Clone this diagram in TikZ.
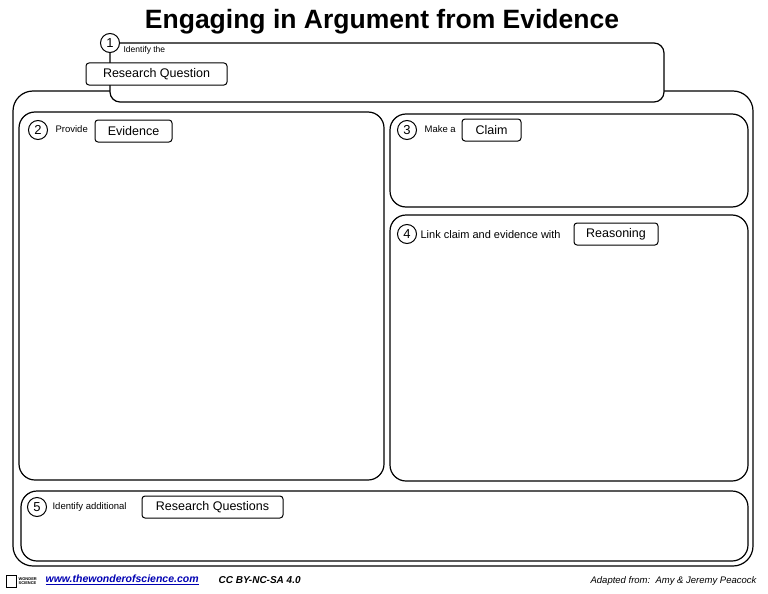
\documentclass[tikz,border=0pt]{standalone}
\usepackage{fontspec}
\setmainfont{Liberation Sans}
\begin{document}
\begin{tikzpicture}[x=1pt,y=-1pt,line width=1.2pt,
  panel/.style={draw,rounded corners=16pt},
  tag/.style={draw,rounded corners=3pt,line width=1pt,inner xsep=0pt,minimum height=22pt,font=\fontsize{12.5}{14}\selectfont},
  num/.style={draw,circle,line width=1pt,minimum size=19pt,inner sep=0pt,font=\fontsize{13}{14}\selectfont,fill=white},
  lbl/.style={anchor=west,inner sep=0pt,font=\fontsize{9.5}{11}\selectfont}]
\useasboundingbox (0,0) rectangle (768,594);
\node (title) at (382,22) {\fontsize{26.5}{28}\selectfont\bfseries Engaging in Argument from Evidence};
\draw[panel,rounded corners=20pt] (13,91) rectangle (753,566);
\draw[fill=white,rounded corners=10pt] (110,43) rectangle (664,102);
\node[num] (n1) at (110,43) {1};
\node[lbl] (t1) at (123,50) {\fontsize{8.5}{10}\selectfont Identify the};
\node[tag,fill=white,minimum width=141pt] (rq) at (156.5,74) {Research Question};
\draw[panel] (19,112) rectangle (384,480);
\draw[panel] (390,114) rectangle (748,207);
\draw[panel] (390,215) rectangle (748,481);
\draw[panel] (21,491) rectangle (748,561);
\node[num] (n2) at (38,130) {2};
\node[lbl] (t2) at (55,129) {Provide};
\node[tag,minimum width=77pt] (ev) at (133.5,131) {Evidence};
\node[num] (n3) at (407,130) {3};
\node[lbl] (t3) at (424,129) {Make a};
\node[tag,minimum width=59pt] (cl) at (491.5,130) {Claim};
\node[num] (n4) at (407,234) {4};
\node[lbl,font=\fontsize{11}{12}\selectfont] (t4) at (420,235) {Link claim and evidence with};
\node[tag,minimum width=84pt] (re) at (616,234) {Reasoning};
\node[num] (n5) at (37,507) {5};
\node[lbl] (t5) at (52,507) {Identify additional};
\node[tag,minimum width=141pt] (rqs) at (212.5,507) {Research Questions};
\node[draw,line width=0.6pt,minimum width=10pt,minimum height=12pt,inner sep=0pt] (logo) at (11,581) {};
\node[anchor=west,inner sep=0pt,font=\fontsize{4}{4}\selectfont\bfseries,align=left] (logot) at (18,581) {WONDER\\SCIENCE};
\node[anchor=west,inner sep=0pt,font=\fontsize{10.5}{11}\selectfont\bfseries\itshape,text=blue!70!black] (url) at (45,580) {\underline{www.thewonderofscience.com}};
\node[anchor=west,inner sep=0pt,font=\fontsize{10}{11}\selectfont\bfseries\itshape] (cc) at (218,580) {CC BY-NC-SA 4.0};
\node[anchor=east,inner sep=0pt,font=\fontsize{9.5}{10}\selectfont\itshape] (ad) at (757,581) {Adapted from:\ \ Amy \& Jeremy Peacock};
\end{tikzpicture}
\end{document}
